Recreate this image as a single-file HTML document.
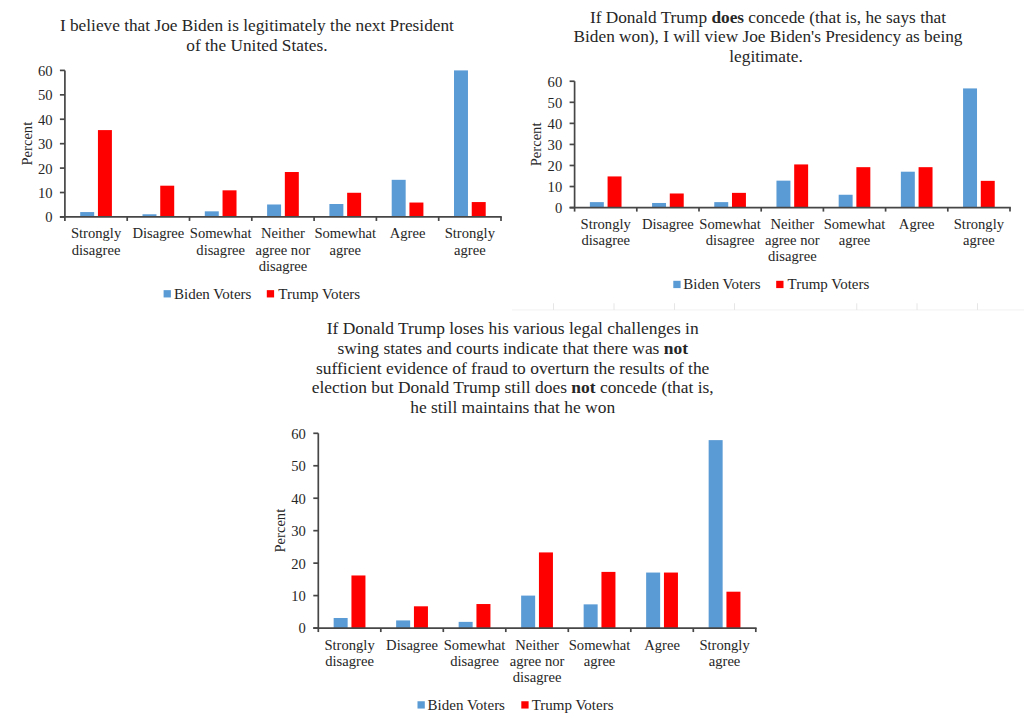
<!DOCTYPE html>
<html><head><meta charset="utf-8"><style>
html,body{margin:0;padding:0;background:#fff;}
svg{display:block;font-family:"Liberation Serif",serif;}
text{fill:#262626;}
</style></head><body>
<svg width="1024" height="720" viewBox="0 0 1024 720">
<rect x="0" y="0" width="1024" height="720" fill="#fff"/>
<line x1="512" y1="309.8" x2="1024" y2="309.8" stroke="#f4f4f4" stroke-width="1.2"/>
<line x1="553.5" y1="303.3" x2="553.5" y2="310" stroke="#e6e6e6" stroke-width="1"/>
<line x1="614" y1="303.3" x2="614" y2="310" stroke="#e6e6e6" stroke-width="1"/>
<line x1="674.5" y1="303.3" x2="674.5" y2="310" stroke="#e6e6e6" stroke-width="1"/>
<line x1="734.5" y1="303.3" x2="734.5" y2="310" stroke="#e6e6e6" stroke-width="1"/>
<line x1="856.75" y1="303.3" x2="856.75" y2="310" stroke="#e6e6e6" stroke-width="1"/>
<line x1="917" y1="303.3" x2="917" y2="310" stroke="#e6e6e6" stroke-width="1"/>
<line x1="977.5" y1="303.3" x2="977.5" y2="310" stroke="#e6e6e6" stroke-width="1"/>
<rect x="80.20" y="212.06" width="13.97" height="4.88" fill="#5B9BD5"/>
<rect x="97.94" y="130.09" width="13.97" height="86.86" fill="#FF0000"/>
<rect x="142.50" y="214.26" width="13.97" height="2.69" fill="#5B9BD5"/>
<rect x="160.24" y="185.69" width="13.97" height="31.26" fill="#FF0000"/>
<rect x="204.80" y="211.33" width="13.97" height="5.62" fill="#5B9BD5"/>
<rect x="222.54" y="190.33" width="13.97" height="26.62" fill="#FF0000"/>
<rect x="267.10" y="204.49" width="13.97" height="12.46" fill="#5B9BD5"/>
<rect x="284.84" y="172.01" width="13.97" height="44.94" fill="#FF0000"/>
<rect x="329.40" y="204.00" width="13.97" height="12.95" fill="#5B9BD5"/>
<rect x="347.14" y="192.77" width="13.97" height="24.18" fill="#FF0000"/>
<rect x="391.70" y="179.82" width="13.97" height="37.13" fill="#5B9BD5"/>
<rect x="409.44" y="202.54" width="13.97" height="14.41" fill="#FF0000"/>
<rect x="454.00" y="70.40" width="13.97" height="146.55" fill="#5B9BD5"/>
<rect x="471.74" y="202.05" width="13.97" height="14.90" fill="#FF0000"/>
<line x1="64.90" y1="70.40" x2="64.90" y2="220.95" stroke="#464646" stroke-width="1.7"/>
<line x1="59.90" y1="216.95" x2="501.80" y2="216.95" stroke="#464646" stroke-width="1.7"/>
<line x1="59.90" y1="70.40" x2="64.90" y2="70.40" stroke="#464646" stroke-width="1.7"/>
<text x="52.50" y="75.80" text-anchor="end" font-size="14.6">60</text>
<line x1="59.90" y1="94.83" x2="64.90" y2="94.83" stroke="#464646" stroke-width="1.7"/>
<text x="52.50" y="100.23" text-anchor="end" font-size="14.6">50</text>
<line x1="59.90" y1="119.25" x2="64.90" y2="119.25" stroke="#464646" stroke-width="1.7"/>
<text x="52.50" y="124.65" text-anchor="end" font-size="14.6">40</text>
<line x1="59.90" y1="143.68" x2="64.90" y2="143.68" stroke="#464646" stroke-width="1.7"/>
<text x="52.50" y="149.08" text-anchor="end" font-size="14.6">30</text>
<line x1="59.90" y1="168.10" x2="64.90" y2="168.10" stroke="#464646" stroke-width="1.7"/>
<text x="52.50" y="173.50" text-anchor="end" font-size="14.6">20</text>
<line x1="59.90" y1="192.52" x2="64.90" y2="192.52" stroke="#464646" stroke-width="1.7"/>
<text x="52.50" y="197.92" text-anchor="end" font-size="14.6">10</text>
<line x1="59.90" y1="216.95" x2="64.90" y2="216.95" stroke="#464646" stroke-width="1.7"/>
<text x="52.50" y="222.35" text-anchor="end" font-size="14.6">0</text>
<line x1="127.20" y1="216.95" x2="127.20" y2="220.95" stroke="#464646" stroke-width="1.7"/>
<line x1="189.50" y1="216.95" x2="189.50" y2="220.95" stroke="#464646" stroke-width="1.7"/>
<line x1="251.80" y1="216.95" x2="251.80" y2="220.95" stroke="#464646" stroke-width="1.7"/>
<line x1="314.10" y1="216.95" x2="314.10" y2="220.95" stroke="#464646" stroke-width="1.7"/>
<line x1="376.40" y1="216.95" x2="376.40" y2="220.95" stroke="#464646" stroke-width="1.7"/>
<line x1="438.70" y1="216.95" x2="438.70" y2="220.95" stroke="#464646" stroke-width="1.7"/>
<line x1="501.00" y1="216.95" x2="501.00" y2="220.95" stroke="#464646" stroke-width="1.7"/>
<text x="96.05" y="238.45" text-anchor="middle" font-size="14.6">Strongly</text>
<text x="96.05" y="254.60" text-anchor="middle" font-size="14.6">disagree</text>
<text x="158.35" y="238.45" text-anchor="middle" font-size="14.6">Disagree</text>
<text x="220.65" y="238.45" text-anchor="middle" font-size="14.6">Somewhat</text>
<text x="220.65" y="254.60" text-anchor="middle" font-size="14.6">disagree</text>
<text x="282.95" y="238.45" text-anchor="middle" font-size="14.6">Neither</text>
<text x="282.95" y="254.60" text-anchor="middle" font-size="14.6">agree nor</text>
<text x="282.95" y="270.75" text-anchor="middle" font-size="14.6">disagree</text>
<text x="345.25" y="238.45" text-anchor="middle" font-size="14.6">Somewhat</text>
<text x="345.25" y="254.60" text-anchor="middle" font-size="14.6">agree</text>
<text x="407.55" y="238.45" text-anchor="middle" font-size="14.6">Agree</text>
<text x="469.85" y="238.45" text-anchor="middle" font-size="14.6">Strongly</text>
<text x="469.85" y="254.60" text-anchor="middle" font-size="14.6">agree</text>
<text transform="translate(31.50,143.68) rotate(-90)" text-anchor="middle" font-size="14.6">Percent</text>
<text x="256.90" y="31.10" text-anchor="middle" font-size="17.3">I believe that Joe Biden is legitimately the next President</text>
<text x="256.90" y="50.90" text-anchor="middle" font-size="17.3">of the United States.</text>
<rect x="163.60" y="290.15" width="7.3" height="7.3" fill="#5B9BD5"/>
<rect x="266.80" y="290.15" width="7.3" height="7.3" fill="#FF0000"/>
<text x="174.00" y="298.75" font-size="15.0">Biden Voters</text>
<text x="278.30" y="298.75" font-size="15.0">Trump Voters</text>
<rect x="589.87" y="202.12" width="13.95" height="5.48" fill="#5B9BD5"/>
<rect x="607.58" y="176.43" width="13.95" height="31.17" fill="#FF0000"/>
<rect x="652.07" y="202.97" width="13.95" height="4.63" fill="#5B9BD5"/>
<rect x="669.78" y="193.49" width="13.95" height="14.11" fill="#FF0000"/>
<rect x="714.27" y="202.12" width="13.95" height="5.48" fill="#5B9BD5"/>
<rect x="731.98" y="192.86" width="13.95" height="14.74" fill="#FF0000"/>
<rect x="776.47" y="180.65" width="13.95" height="26.95" fill="#5B9BD5"/>
<rect x="794.18" y="164.43" width="13.95" height="43.17" fill="#FF0000"/>
<rect x="838.67" y="194.75" width="13.95" height="12.85" fill="#5B9BD5"/>
<rect x="856.38" y="167.17" width="13.95" height="40.43" fill="#FF0000"/>
<rect x="900.87" y="171.70" width="13.95" height="35.90" fill="#5B9BD5"/>
<rect x="918.58" y="167.17" width="13.95" height="40.43" fill="#FF0000"/>
<rect x="963.07" y="88.41" width="13.95" height="119.19" fill="#5B9BD5"/>
<rect x="980.78" y="180.86" width="13.95" height="26.74" fill="#FF0000"/>
<line x1="574.60" y1="81.25" x2="574.60" y2="211.60" stroke="#464646" stroke-width="1.7"/>
<line x1="569.60" y1="207.60" x2="1010.80" y2="207.60" stroke="#464646" stroke-width="1.7"/>
<line x1="569.60" y1="81.25" x2="574.60" y2="81.25" stroke="#464646" stroke-width="1.7"/>
<text x="562.20" y="86.65" text-anchor="end" font-size="14.6">60</text>
<line x1="569.60" y1="102.31" x2="574.60" y2="102.31" stroke="#464646" stroke-width="1.7"/>
<text x="562.20" y="107.71" text-anchor="end" font-size="14.6">50</text>
<line x1="569.60" y1="123.37" x2="574.60" y2="123.37" stroke="#464646" stroke-width="1.7"/>
<text x="562.20" y="128.77" text-anchor="end" font-size="14.6">40</text>
<line x1="569.60" y1="144.43" x2="574.60" y2="144.43" stroke="#464646" stroke-width="1.7"/>
<text x="562.20" y="149.83" text-anchor="end" font-size="14.6">30</text>
<line x1="569.60" y1="165.48" x2="574.60" y2="165.48" stroke="#464646" stroke-width="1.7"/>
<text x="562.20" y="170.88" text-anchor="end" font-size="14.6">20</text>
<line x1="569.60" y1="186.54" x2="574.60" y2="186.54" stroke="#464646" stroke-width="1.7"/>
<text x="562.20" y="191.94" text-anchor="end" font-size="14.6">10</text>
<line x1="569.60" y1="207.60" x2="574.60" y2="207.60" stroke="#464646" stroke-width="1.7"/>
<text x="562.20" y="213.00" text-anchor="end" font-size="14.6">0</text>
<line x1="636.80" y1="207.60" x2="636.80" y2="211.60" stroke="#464646" stroke-width="1.7"/>
<line x1="699.00" y1="207.60" x2="699.00" y2="211.60" stroke="#464646" stroke-width="1.7"/>
<line x1="761.20" y1="207.60" x2="761.20" y2="211.60" stroke="#464646" stroke-width="1.7"/>
<line x1="823.40" y1="207.60" x2="823.40" y2="211.60" stroke="#464646" stroke-width="1.7"/>
<line x1="885.60" y1="207.60" x2="885.60" y2="211.60" stroke="#464646" stroke-width="1.7"/>
<line x1="947.80" y1="207.60" x2="947.80" y2="211.60" stroke="#464646" stroke-width="1.7"/>
<line x1="1010.00" y1="207.60" x2="1010.00" y2="211.60" stroke="#464646" stroke-width="1.7"/>
<text x="605.70" y="229.10" text-anchor="middle" font-size="14.6">Strongly</text>
<text x="605.70" y="245.25" text-anchor="middle" font-size="14.6">disagree</text>
<text x="667.90" y="229.10" text-anchor="middle" font-size="14.6">Disagree</text>
<text x="730.10" y="229.10" text-anchor="middle" font-size="14.6">Somewhat</text>
<text x="730.10" y="245.25" text-anchor="middle" font-size="14.6">disagree</text>
<text x="792.30" y="229.10" text-anchor="middle" font-size="14.6">Neither</text>
<text x="792.30" y="245.25" text-anchor="middle" font-size="14.6">agree nor</text>
<text x="792.30" y="261.40" text-anchor="middle" font-size="14.6">disagree</text>
<text x="854.50" y="229.10" text-anchor="middle" font-size="14.6">Somewhat</text>
<text x="854.50" y="245.25" text-anchor="middle" font-size="14.6">agree</text>
<text x="916.70" y="229.10" text-anchor="middle" font-size="14.6">Agree</text>
<text x="978.90" y="229.10" text-anchor="middle" font-size="14.6">Strongly</text>
<text x="978.90" y="245.25" text-anchor="middle" font-size="14.6">agree</text>
<text transform="translate(541.20,144.43) rotate(-90)" text-anchor="middle" font-size="14.6">Percent</text>
<text x="768.00" y="22.50" text-anchor="middle" font-size="17.3">If Donald Trump <tspan font-weight="bold">does</tspan> concede (that is, he says that</text>
<text x="768.00" y="42.15" text-anchor="middle" font-size="17.3">Biden won), I will view Joe Biden's Presidency as being</text>
<text x="766.00" y="61.80" text-anchor="middle" font-size="17.3">legitimate.</text>
<rect x="673.30" y="280.80" width="7.3" height="7.3" fill="#5B9BD5"/>
<rect x="776.20" y="280.80" width="7.3" height="7.3" fill="#FF0000"/>
<text x="683.30" y="289.40" font-size="15.0">Biden Voters</text>
<text x="787.50" y="289.40" font-size="15.0">Trump Voters</text>
<rect x="333.64" y="617.99" width="14.01" height="10.06" fill="#5B9BD5"/>
<rect x="351.44" y="575.47" width="14.01" height="52.58" fill="#FF0000"/>
<rect x="396.14" y="620.42" width="14.01" height="7.63" fill="#5B9BD5"/>
<rect x="413.94" y="606.30" width="14.01" height="21.75" fill="#FF0000"/>
<rect x="458.64" y="621.88" width="14.01" height="6.17" fill="#5B9BD5"/>
<rect x="476.44" y="604.03" width="14.01" height="24.02" fill="#FF0000"/>
<rect x="521.14" y="595.59" width="14.01" height="32.46" fill="#5B9BD5"/>
<rect x="538.94" y="552.42" width="14.01" height="75.63" fill="#FF0000"/>
<rect x="583.64" y="604.36" width="14.01" height="23.69" fill="#5B9BD5"/>
<rect x="601.44" y="571.90" width="14.01" height="56.15" fill="#FF0000"/>
<rect x="646.14" y="572.55" width="14.01" height="55.50" fill="#5B9BD5"/>
<rect x="663.94" y="572.55" width="14.01" height="55.50" fill="#FF0000"/>
<rect x="708.64" y="440.12" width="14.01" height="187.93" fill="#5B9BD5"/>
<rect x="726.44" y="591.70" width="14.01" height="36.35" fill="#FF0000"/>
<line x1="318.30" y1="433.30" x2="318.30" y2="632.05" stroke="#464646" stroke-width="1.7"/>
<line x1="313.30" y1="628.05" x2="756.60" y2="628.05" stroke="#464646" stroke-width="1.7"/>
<line x1="313.30" y1="433.30" x2="318.30" y2="433.30" stroke="#464646" stroke-width="1.7"/>
<text x="305.90" y="438.70" text-anchor="end" font-size="14.6">60</text>
<line x1="313.30" y1="465.76" x2="318.30" y2="465.76" stroke="#464646" stroke-width="1.7"/>
<text x="305.90" y="471.16" text-anchor="end" font-size="14.6">50</text>
<line x1="313.30" y1="498.22" x2="318.30" y2="498.22" stroke="#464646" stroke-width="1.7"/>
<text x="305.90" y="503.62" text-anchor="end" font-size="14.6">40</text>
<line x1="313.30" y1="530.67" x2="318.30" y2="530.67" stroke="#464646" stroke-width="1.7"/>
<text x="305.90" y="536.07" text-anchor="end" font-size="14.6">30</text>
<line x1="313.30" y1="563.13" x2="318.30" y2="563.13" stroke="#464646" stroke-width="1.7"/>
<text x="305.90" y="568.53" text-anchor="end" font-size="14.6">20</text>
<line x1="313.30" y1="595.59" x2="318.30" y2="595.59" stroke="#464646" stroke-width="1.7"/>
<text x="305.90" y="600.99" text-anchor="end" font-size="14.6">10</text>
<line x1="313.30" y1="628.05" x2="318.30" y2="628.05" stroke="#464646" stroke-width="1.7"/>
<text x="305.90" y="633.45" text-anchor="end" font-size="14.6">0</text>
<line x1="380.80" y1="628.05" x2="380.80" y2="632.05" stroke="#464646" stroke-width="1.7"/>
<line x1="443.30" y1="628.05" x2="443.30" y2="632.05" stroke="#464646" stroke-width="1.7"/>
<line x1="505.80" y1="628.05" x2="505.80" y2="632.05" stroke="#464646" stroke-width="1.7"/>
<line x1="568.30" y1="628.05" x2="568.30" y2="632.05" stroke="#464646" stroke-width="1.7"/>
<line x1="630.80" y1="628.05" x2="630.80" y2="632.05" stroke="#464646" stroke-width="1.7"/>
<line x1="693.30" y1="628.05" x2="693.30" y2="632.05" stroke="#464646" stroke-width="1.7"/>
<line x1="755.80" y1="628.05" x2="755.80" y2="632.05" stroke="#464646" stroke-width="1.7"/>
<text x="349.55" y="649.55" text-anchor="middle" font-size="14.6">Strongly</text>
<text x="349.55" y="665.70" text-anchor="middle" font-size="14.6">disagree</text>
<text x="412.05" y="649.55" text-anchor="middle" font-size="14.6">Disagree</text>
<text x="474.55" y="649.55" text-anchor="middle" font-size="14.6">Somewhat</text>
<text x="474.55" y="665.70" text-anchor="middle" font-size="14.6">disagree</text>
<text x="537.05" y="649.55" text-anchor="middle" font-size="14.6">Neither</text>
<text x="537.05" y="665.70" text-anchor="middle" font-size="14.6">agree nor</text>
<text x="537.05" y="681.85" text-anchor="middle" font-size="14.6">disagree</text>
<text x="599.55" y="649.55" text-anchor="middle" font-size="14.6">Somewhat</text>
<text x="599.55" y="665.70" text-anchor="middle" font-size="14.6">agree</text>
<text x="662.05" y="649.55" text-anchor="middle" font-size="14.6">Agree</text>
<text x="724.55" y="649.55" text-anchor="middle" font-size="14.6">Strongly</text>
<text x="724.55" y="665.70" text-anchor="middle" font-size="14.6">agree</text>
<text transform="translate(284.90,530.67) rotate(-90)" text-anchor="middle" font-size="14.6">Percent</text>
<text x="512.70" y="333.90" text-anchor="middle" font-size="17.45">If Donald Trump loses his various legal challenges in</text>
<text x="512.70" y="353.75" text-anchor="middle" font-size="17.45">swing states and courts indicate that there was <tspan font-weight="bold">not</tspan></text>
<text x="512.70" y="373.60" text-anchor="middle" font-size="17.45">sufficient evidence of fraud to overturn the results of the</text>
<text x="512.70" y="393.45" text-anchor="middle" font-size="17.45">election but Donald Trump still does <tspan font-weight="bold">not</tspan> concede (that is,</text>
<text x="512.70" y="413.30" text-anchor="middle" font-size="17.45">he still maintains that he won</text>
<rect x="417.50" y="701.25" width="7.3" height="7.3" fill="#5B9BD5"/>
<rect x="521.30" y="701.25" width="7.3" height="7.3" fill="#FF0000"/>
<text x="427.60" y="709.85" font-size="15.0">Biden Voters</text>
<text x="531.70" y="709.85" font-size="15.0">Trump Voters</text>
</svg>
</body></html>
